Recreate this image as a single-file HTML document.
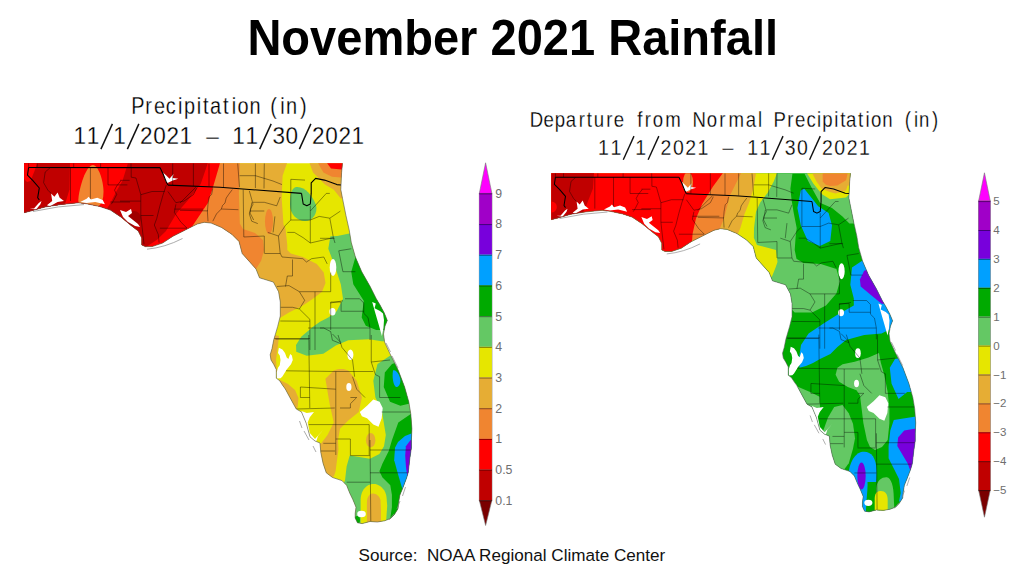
<!DOCTYPE html>
<html><head><meta charset="utf-8"><style>
html,body{margin:0;padding:0;background:#fff;}
body{width:1024px;height:576px;overflow:hidden;}
svg{display:block;}
text{font-family:"Liberation Sans",sans-serif;}
</style></head><body>
<svg width="1024" height="576" viewBox="0 0 1024 576">
<defs>
<clipPath id="cL"><path d="M24.2,163.3 L342.5,163.3 L341.6,172.4 L340.8,189.7 L342.5,198.4 L346,215.8 L349.2,230 L351.25,242.5 L355.4,257 L361.7,271.7 L370,286.25 L376.25,298.75 L380,305 L384.3,313 L387.3,320.4 L385,326 L383.5,334 L384.6,342 L390,353.75 L398.3,370.4 L404.6,387 L408.75,401.7 L410.8,414 L411.9,428.75 L411.4,440 L411.4,447.8 L409.8,458.75 L408.3,472.2 L406.5,478.2 L402.8,488 L399.8,495.3 L398.6,502.6 L398,508.7 L394.3,514.7 L390.7,518.4 L384.6,520.8 L377.3,522 L370,521.5 L362.2,523.6 L357.5,522.8 L355.2,518 L355.2,513.4 L356,507.2 L352.8,499.4 L349.7,493 L346.6,485.3 L341.9,480.6 L332.5,477.5 L326.25,472.8 L323.1,463.4 L320.8,452.5 L320,443 L315,441 L310,436.8 L306.3,423.4 L301.5,412 L296.25,409 L291.25,400 L285.3,389 L282.4,385 L279.75,380.8 L276.3,378.2 L276.3,369.5 L273.7,364.3 L271,360 L270.2,354.75 L272,348.7 L273.7,340 L277.7,326.4 L280.3,316 L280.3,302 L278.6,291.7 L273.4,282.1 L259.5,277.8 L256,269 L242.2,253.5 L239,241.4 L232,234.4 L221.6,227.5 L211.2,223.1 L204.2,222.3 L197.3,224 L190.3,227.5 L183.4,231 L173,236.2 L162.5,243.1 L152.1,246.6 L145.2,246.6 L141.7,244.9 L141.7,237.9 L138.2,231 L131.3,225.7 L120.8,217 L110.4,210.1 L100,206.6 L86.7,203.8 L78.3,202.8 L61.7,204.4 L45,207 L32.5,210.6 L24.2,212.7 Z"/></clipPath>
<clipPath id="cR"><path d="M24.2,163.3 L342.5,163.3 L341.6,172.4 L340.8,189.7 L342.5,198.4 L346,215.8 L349.2,230 L351.25,242.5 L355.4,257 L361.7,271.7 L370,286.25 L376.25,298.75 L380,305 L384.3,313 L387.3,320.4 L385,326 L383.5,334 L384.6,342 L390,353.75 L398.3,370.4 L404.6,387 L408.75,401.7 L410.8,414 L411.9,428.75 L411.4,440 L411.4,447.8 L409.8,458.75 L408.3,472.2 L406.5,478.2 L402.8,488 L399.8,495.3 L398.6,502.6 L398,508.7 L394.3,514.7 L390.7,518.4 L384.6,520.8 L377.3,522 L370,521.5 L362.2,523.6 L357.5,522.8 L355.2,518 L355.2,513.4 L356,507.2 L352.8,499.4 L349.7,493 L346.6,485.3 L341.9,480.6 L332.5,477.5 L326.25,472.8 L323.1,463.4 L320.8,452.5 L320,443 L315,441 L310,436.8 L306.3,423.4 L301.5,412 L296.25,409 L291.25,400 L285.3,389 L282.4,385 L279.75,380.8 L276.3,378.2 L276.3,369.5 L273.7,364.3 L271,360 L270.2,354.75 L272,348.7 L273.7,340 L277.7,326.4 L280.3,316 L280.3,302 L278.6,291.7 L273.4,282.1 L259.5,277.8 L256,269 L242.2,253.5 L239,241.4 L232,234.4 L221.6,227.5 L211.2,223.1 L204.2,222.3 L197.3,224 L190.3,227.5 L183.4,231 L173,236.2 L162.5,243.1 L152.1,246.6 L145.2,246.6 L141.7,244.9 L141.7,237.9 L138.2,231 L131.3,225.7 L120.8,217 L110.4,210.1 L100,206.6 L86.7,203.8 L78.3,202.8 L61.7,204.4 L45,207 L32.5,210.6 L24.2,212.7 Z" transform="translate(551.3,173.2) scale(0.94) translate(-24.2,-163.3)"/></clipPath>
</defs>
<rect width="1024" height="576" fill="#fff"/>
<text x="247.41" y="55" font-size="50.5" font-weight="bold" fill="#000" textLength="530.62" lengthAdjust="spacingAndGlyphs">November 2021 Rainfall</text>
<text x="160.02 177.24 187.78 202.02 216.94 224.37 239.99 247.69 256.20 272.02 282.67 289.58 304.32 329.48 341.82 348.71 365.90" y="114" font-size="24.3" transform="scale(0.82,1)" fill="#000" stroke="#fff" stroke-width="0.25">Precipitation(in)</text>
<text x="80.03 94.41 123.17 152.26 166.64 181.02 195.07 224.17 252.59 266.97 296.14 310.45 339.21 353.59 367.97 382.02" y="144.5" font-size="24.5" transform="scale(0.92,1)" fill="#000" stroke="#fff" stroke-width="0.25">1112021–11302021</text><line x1="100.91" y1="149.1" x2="112.41" y2="123.9" stroke="#111" stroke-width="1.5"/><line x1="127.37" y1="149.1" x2="138.87" y2="123.9" stroke="#111" stroke-width="1.5"/><line x1="259.67" y1="149.1" x2="271.17" y2="123.9" stroke="#111" stroke-width="1.5"/><line x1="299.36" y1="149.1" x2="310.86" y2="123.9" stroke="#111" stroke-width="1.5"/>
<text x="645.93 662.73 676.48 690.03 705.90 715.54 723.95 739.31 748.47 777.16 786.26 796.00 811.27 844.60 861.86 877.00 888.47 909.43 924.55 943.32 960.05 969.56 983.41 996.26 1002.70 1017.48 1024.68 1031.62 1046.27 1055.53 1062.22 1075.99 1103.39 1114.56 1120.74 1136.49" y="126.7" font-size="22.7" transform="scale(0.82,1)" fill="#000" stroke="#fff" stroke-width="0.25">DeparturefromNormalPrecipitation(in)</text>
<text x="650.12 663.62 690.62 717.91 731.41 744.91 758.12 785.41 812.12 825.62 852.97 866.41 893.41 906.91 920.41 933.62" y="155.3" font-size="21.2" transform="scale(0.92,1)" fill="#000" stroke="#fff" stroke-width="0.25">1112021–11302021</text><line x1="623.29" y1="159.8" x2="633.99" y2="136.10000000000002" stroke="#111" stroke-width="1.4"/><line x1="648.13" y1="159.8" x2="658.83" y2="136.10000000000002" stroke="#111" stroke-width="1.4"/><line x1="772.33" y1="159.8" x2="783.03" y2="136.10000000000002" stroke="#111" stroke-width="1.4"/><line x1="809.59" y1="159.8" x2="820.29" y2="136.10000000000002" stroke="#111" stroke-width="1.4"/>
<g clip-path="url(#cL)">
<rect x="0" y="150" width="460" height="400" fill="#e6e600"/>
<polygon fill="#e6ad34" points="0,150 287,150 287,163.3 282.6,175.8 281.7,198.4 283.5,224.4 285.5,228.8 287.3,245 287.3,250 290.8,253.5 302.9,257 316.8,263.9 323.75,272.6 325.5,283 322,291.7 313.3,298.6 302.9,305.6 289,312.5 280.3,317.7 270,320 0,320"/>
<polygon fill="#e6ad34" points="309.5,163 313,172.4 325,184.5 333.8,189.7 340.8,198.4 350,198.4 350,163"/>
<polygon fill="#f08530" points="0,150 239.8,150 239.8,163.4 238.9,194 239.8,223.4 243,229 255,233 263,240 264,250 261.25,260.4 256,269 250,280 0,280"/>
<polygon fill="#f08530" points="318,163 323.4,172.4 332,176.7 340.8,177.6 350,177.6 350,163"/>
<ellipse cx="269" cy="221.5" rx="4" ry="12.5" fill="#f08530"/>
<polygon fill="#ff0000" points="327,163 331,168.5 341.6,169.5 350,169 350,163"/>
<polygon fill="#ff0000" points="0,150 219.9,150 219.9,163.6 212.9,187.5 207.7,203.2 197.3,218.8 190.3,229.2 185,260 0,260"/>
<polygon fill="#c00000" points="0,150 207.7,150 207.7,163.6 200.7,184 186.9,201.4 176.4,213.6 166,231 157.3,239.6 146.9,246.6 140,250 0,250"/>
<ellipse cx="134" cy="218.5" rx="7" ry="7.5" fill="#a00000"/>
<polygon fill="#ff0000" points="0,150 127.8,150 127.8,163.6 122.6,180.6 115.6,192.7 110.4,203.2 107,208.4 100,215 0,215"/>
<path fill="#f08530" d="M93,165 C98,165 103.5,180 103.5,192 C103.5,205 98,208 91,208 C84,208 78,206 78.3,200 C79,188 86,165 93,165 Z"/>
<polygon fill="#c00000" points="0,150 70,150 70,163.3 69.5,189.25 65.8,201.75 64,206 60,215 0,215"/>
<polygon fill="#ff0000" points="24,163.3 37.2,163.3 34.3,171.5 30.5,181 27,182 24,179"/>
<path fill="#64c864" d="M296,187 C305,186 312,195 316,205 C318,213 313,221 305,221 C297,221 290,214 290,205 C290,196 291,188 296,187 Z"/>
<polygon fill="#64c864" points="360,228 349.4,233.5 337.3,236 330.4,236.25 328.3,248.75 334.6,265.4 340.8,284.2 343,298.75 336.7,311.25 328.3,317.5 320,321.7 313.3,326.4 301.2,336.8 296,345 296.25,351.7 306.7,355.8 323.3,353.75 335.8,345.4 348.3,340.2 369.2,339.2 381.7,341.25 400,342 400,228"/>
<polygon fill="#00aa00" points="356,255 351.25,271.7 353.3,284.2 363.75,300.8 361.7,317.5 365.8,325.8 376.25,330 400,330 400,250"/>
<path fill="#e6ad34" d="M333.75,370.4 C340,368 345,369 348.3,370.4 L356.7,380.8 L361.9,397.5 L358.75,412 L348.3,420.4 L340,428.75 L338,440 L338.5,449.4 L337,460.3 L335.6,471.25 L334,476 L330,480 L310,470 L315,445 L321.25,443.3 L327.5,435 L333.75,422.5 L329.6,403.75 L325.4,378.75 Z"/>
<polygon fill="#e6ad34" points="280,380 288,384 295,390 298.5,398 297.5,408 292,410 285,395 277,380"/>
<polygon fill="#e6ad34" points="270,334 279,336 278,345 276,360 277,372 272,372 268,350"/>
<ellipse cx="370.7" cy="440.2" rx="4.7" ry="7.3" fill="#e6ad34"/>
<polygon fill="#64c864" points="390,355.8 377.5,364 373.3,380.8 375.4,397.5 381.7,410 383.75,422.5 385.8,435 384,446.25 379.4,454 370,458.75 360.6,457.2 349.7,455.6 346.6,466.6 345,480.6 340,490 340,540 430,540 430,352"/>
<polygon fill="#00aa00" points="392,364 384.8,372.5 383.75,387 390,401.7 400.4,405.8 408.75,403.75 420,403 420,355"/>
<path fill="#00a0ff" d="M393,370.4 C396,369 400,375 400.4,380 C400.5,385 398,387.5 396,387 C393,385 392,376 393,370.4 Z"/>
<polygon fill="#00aa00" points="420,410 410.8,414 398.3,422.5 392,440 388.75,451 382.5,463.4 379.4,471.25 382.5,477.5 390.3,485.3 391.9,494.7 391.9,507.2 390.3,518 390,530 420,530"/>
<polygon fill="#00a0ff" points="420,430 405,436 398,442 395,447.8 394.2,460.3 398.1,474.4 401.25,485.3 402.8,490 420,490"/>
<polygon fill="#7800dc" points="420,438 410.6,440 405.9,446.25 405.2,455.6 405.9,466.6 407.5,477.5 420,477.5"/>
<path fill="#e6e600" d="M360.6,530 L360.6,499.4 C361,492 364,488.4 367,486 C370,484 374,483.5 377,484.5 C381,486 385.6,490 386.5,497 L387.2,505.6 L385.6,530 Z"/>
<path fill="#e6ad34" d="M366.9,530 L366.9,502.5 C367,498 368.5,494.7 372,493.5 C376,493 379.5,496 380.5,500 L381,510.3 L381,530 Z"/>
<ellipse cx="357" cy="520" rx="3" ry="4" fill="#00aa00"/>
<path d="M372.2,302 L375.8,303.4 L374.6,308.2 L380,311 L383,313.5 L384,320 L383.5,328 L381.9,336 L378.5,324 L375,312 Z" fill="#fff"/>
<path d="M29.7,208.5 L34,208.5 L38.8,203.1 L41.5,201 L40.4,204.2 L36.1,209.6 Z" fill="#fff"/>
<path d="M46.9,205.3 L52.2,201 L51.1,193.4 L54.4,196.7 L57.6,192.4 L59.7,197.7 L64,201 L57.6,202 L50,206.3 Z" fill="#fff"/>
<path d="M80.2,202 L86.6,198.8 L88.7,196.7 L90.9,199.4 L97.3,197.7 L102.7,199.9 L104.9,204.2 L95.2,202 L86.6,203.1 Z" fill="#fff"/>
<path d="M120,210 L126,212 L131,209 L132,213 L128,216 L133,220 L138,224 L140,227 L135,226 L128,222 L123,217 Z" fill="#fff"/>
<path d="M163,172.4 L165.5,181 L167.5,183 L172.7,180.4 L178.3,178.8 L172.7,178 L173.5,174 L169.5,178.8 L166.3,175.6 Z" fill="#fff"/>
<path d="M278.9,347.8 L282.4,349.5 L285,353 L286.7,357.4 L288.4,359.1 L290.2,353.9 L291.9,355.6 L292.8,360 L291,364.3 L286.7,369.5 L284.1,373.8 L282.4,376.4 L280.6,378.2 L277,378.5 L276.8,372 L278,367.8 L279.75,365.2 L280.5,360 L279.75,355.6 L278,353 Z" fill="#fff"/>
<path d="M301.5,411 L306.7,413 L314,412 L309.8,417.3 L307.7,422.5 L309.8,433 L315,439 L323.3,429.8 L318,436 L316,442 L310,440 L305,432 L303,420 Z" fill="#fff"/>
<path d="M359.8,412 L367,405.8 L373.3,399.6 L379.6,401.7 L382.7,408 L381.7,418.3 L378.5,426.7 L373.3,424.6 L367,418.3 L361.9,416.25 Z" fill="#fff"/>
<ellipse cx="348.9" cy="387.1" rx="2.6" ry="4" fill="#fff"/>
<ellipse cx="350.4" cy="354.8" rx="3" ry="5.2" fill="#fff"/>
<ellipse cx="333" cy="267.5" rx="3.3" ry="8.5" fill="#fff"/>
<ellipse cx="332.5" cy="311.7" rx="3.1" ry="3.7" fill="#fff"/>
<ellipse cx="361.5" cy="514" rx="4.3" ry="3.3" fill="#fff"/>
<g fill="none" stroke="#000" stroke-opacity="0.45" stroke-width="0.9" stroke-linejoin="round">
<path d="M28.6,163.3 L28.6,167.5"/>
<path d="M212.8,188.4 L211.6,194.5 L209.2,196.9 L208,204.2 L207.4,211.5 L208,221.2"/>
<path d="M232.3,189.6 L228.6,194.5 L226.2,198.1 L225,203 L222.6,205.4 L221.3,209 L216.5,213.9 L212.8,221.2"/>
<path d="M221.3,209 L238.4,209.7"/>
<path d="M243.2,189.6 L243.8,237 L264.3,236"/>
<path d="M249.3,190.8 L251.7,199.3 L253,204.2 L250.5,209 L249.3,214 L251.7,221.2 L257.8,223.6"/>
<path d="M253,202.3 L264.3,202.3 L276.7,205.8 L280.2,197"/>
<path d="M180,203 L195.8,187.2"/>
<path d="M180,210.3 L208,210.9"/>
<path d="M37.2,163.3 L37.2,167.5"/>
<path d="M73.7,163.3 L73.7,167.5"/>
<path d="M100.6,163.3 L100.6,167.5"/>
<path d="M131,163.3 L131,167.5"/>
<path d="M172.7,163.3 L172.7,185"/>
<path d="M193.4,163.3 L193.4,186"/>
<path d="M209,163.3 L209,186.5"/>
<path d="M223.5,163.3 L223.5,187.2"/>
<path d="M237.7,163.3 L239.5,187.2"/>
<path d="M255.4,163.3 L255.4,188"/>
<path d="M264.3,163.3 L264,188.5"/>
<path d="M239.5,175.7 L255.4,175.7 L273,181 L282,184.6"/>
<path d="M290.8,179.3 L305,180.1"/>
<path d="M50,167.9 L45.2,172 L43.6,182.7 L47.9,190.2 L51.1,193.4"/>
<path d="M70.5,167.5 L70.5,201"/>
<path d="M90.4,167.5 L90.4,198.8"/>
<path d="M108,167.5 L108,184.9 L127.4,184.9"/>
<path d="M121,180.6 L116.7,186 L114.5,190.2 L116.7,194.5 L113.4,201 L111.3,204.2"/>
<path d="M110.2,202 L130,202"/>
<path d="M131.2,167.6 L131.2,177.2 L136,178 L140.8,194.7 L152,191.5 L164.7,191.5"/>
<path d="M166.3,185.1 L163.1,194.7 L159.9,205.9 L156.7,218.7 L154.3,225 L158.3,234.6 L159.1,242.6"/>
<path d="M120,180.3 L129.6,180.3"/>
<path d="M120,201.1 L140.8,201.1"/>
<path d="M140.8,194.7 L140.8,215.5 L144,244.2"/>
<path d="M140.8,215.5 L153.5,215.5"/>
<path d="M167.9,191.5 L175.9,202.7 L183.9,201.1 L193.4,194.7 L196.6,188.3"/>
<path d="M175.9,204.3 L174.3,212.3 L180.7,221.9 L187,228.2"/>
<path d="M174.3,209.1 L203,209.1"/>
<path d="M159.9,228.2 L187,228.2"/>
<path d="M250,211 L264.3,211"/>
<path d="M251.9,202.3 L250,213 L253.7,220"/>
<path d="M267.8,232.4 L278.4,236 L285.5,225.3"/>
<path d="M274.9,216.4 L273.1,232.4"/>
<path d="M285.5,225.3 L290.8,220 L310.3,220 L319.2,216.4 L329.8,218.2 L340.4,211.1"/>
<path d="M290.8,179.3 L290.8,220"/>
<path d="M310.3,205.8 L310.3,243"/>
<path d="M310.3,211 L326.3,193.4 L329.8,193.4"/>
<path d="M287.3,232.4 L294.4,232.4 L303.2,237.7 L310.3,243 L333.4,237.7"/>
<path d="M329.8,218.2 L333.4,237.7 L335,243"/>
<path d="M264.3,236 L264.3,253.5"/>
<path d="M278.4,236 L280.2,253.5"/>
<path d="M264.7,253.5 L280.3,253.5 L282,257 L302.9,258.7 L306.4,262 L311.6,258.7 L323.75,257 L327.2,263.9"/>
<path d="M292.5,259.5 L292.5,276 L287.3,276 L285.5,286.5"/>
<path d="M276.9,286.5 L289,285.6 L299.4,291.7 L304.7,300.3 L299.4,309 L292.5,307.3 L280.3,307.3"/>
<path d="M299.4,291.7 L330.7,291.7"/>
<path d="M315,291.7 L315,350"/>
<path d="M330.7,272.6 L330.7,291.7"/>
<path d="M299.4,309 L309.9,319.4 L309.9,350"/>
<path d="M280.3,321 L309.9,321.2"/>
<path d="M273.4,338.5 L309.9,338.5"/>
<path d="M308.1,328 L323.75,328 L330.7,331.6 L332.4,340.3 L341.1,343.75"/>
<path d="M330.7,302 L341.1,302 L341.1,310.8"/>
<path d="M330.7,302 L330.7,330"/>
<path d="M338.75,250.8 L351.25,248.75"/>
<path d="M338.75,250.8 L342.9,271.7 L355.4,271.7"/>
<path d="M320,238.3 L334.6,238.3"/>
<path d="M345,298.75 L359.6,298.75 L363.75,303 L363.75,313.3 L368,317.5 L370,328 L370,340"/>
<path d="M330.4,303 L343,300.8"/>
<path d="M320,328 L370,328"/>
<path d="M332.5,334 L340.8,342.5"/>
<path d="M340.8,311.25 L363.75,311.25"/>
<path d="M308.75,335 L309.8,408"/>
<path d="M275.4,339.2 L308.75,339.2"/>
<path d="M286,370.8 L335.8,371.5 L373.3,371.5"/>
<path d="M335.8,371.5 L335.8,455"/>
<path d="M300.4,387 L335.8,389.2"/>
<path d="M300.4,387 L300.4,397.5 L309.8,397.5"/>
<path d="M296.25,409 L334.8,408"/>
<path d="M308.75,424.6 L369.2,424.6"/>
<path d="M350.4,397.5 L356.7,397.5 L350.4,403.75 L350.4,408 L340,408"/>
<path d="M352.5,376.7 L356.7,389.2 L365,397.5"/>
<path d="M338,335 L342,347.5 L352.5,360 L354.6,376.7"/>
<path d="M371.25,335 L371.25,362 L390,360"/>
<path d="M371.25,362 L375.4,374.6 L379.6,376.7 L379.6,397.5 L400.4,397.5"/>
<path d="M381.7,412 L410.8,412"/>
<path d="M369.2,424.6 L369.2,455"/>
<path d="M335.8,439 L350.4,439 L350.4,455"/>
<path d="M323.3,443.3 L335.8,443.3"/>
<path d="M320,451 L335,451"/>
<path d="M350,455.6 L370,455.6"/>
<path d="M370,450 L411,450"/>
<path d="M370,440 L370.8,521.25"/>
<path d="M346.6,482.2 L370,482.2"/>
<path d="M370,472.8 L407.5,472.8"/>
</g>
<g fill="none" stroke="#000" stroke-width="1.1" stroke-linejoin="round">
<path d="M28.6,167.5 L27.5,175.2 L32.9,180.6 L39.3,188 L37.7,197.7 L39.3,199.9"/>
<path d="M28.6,167.5 L160,167.6"/>
<path d="M160,167.6 L163.1,174 L166.3,182 L167.9,185.1"/>
<path d="M167.9,185.1 L220,187.2 L301.5,193.4"/>
<path d="M301.5,193.4 L303.2,204 L306.8,205.8 L310.3,204 L311.2,193.4 L311.2,182.8 L315.6,178.4 L324.5,180.1 L336.9,184.6 L341,185"/>
</g>
</g>
<path d="M342.5,163.3 L341.6,172.4 L340.8,189.7 L342.5,198.4 L346,215.8 L349.2,230 L351.25,242.5 L355.4,257 L361.7,271.7 L370,286.25 L376.25,298.75 L380,305 L384.3,313 L387.3,320.4 L385,326 L383.5,334 L384.6,342 L390,353.75 L398.3,370.4 L404.6,387 L408.75,401.7 L410.8,414 L411.9,428.75 L411.4,440 L411.4,447.8 L409.8,458.75 L408.3,472.2 L406.5,478.2 L402.8,488 L399.8,495.3 L398.6,502.6 L398,508.7 L394.3,514.7 L390.7,518.4 L384.6,520.8 L377.3,522 L370,521.5 L362.2,523.6 L357.5,522.8 L355.2,518 L355.2,513.4 L356,507.2 L352.8,499.4 L349.7,493 L346.6,485.3 L341.9,480.6 L332.5,477.5 L326.25,472.8 L323.1,463.4 L320.8,452.5 L320,443 L315,441 L310,436.8 L306.3,423.4 L301.5,412 L296.25,409 L291.25,400 L285.3,389 L282.4,385 L279.75,380.8 L276.3,378.2 L276.3,369.5 L273.7,364.3 L271,360 L270.2,354.75 L272,348.7 L273.7,340 L277.7,326.4 L280.3,316 L280.3,302 L278.6,291.7 L273.4,282.1 L259.5,277.8 L256,269 L242.2,253.5 L239,241.4 L232,234.4 L221.6,227.5 L211.2,223.1 L204.2,222.3 L197.3,224 L190.3,227.5 L183.4,231 L173,236.2 L162.5,243.1 L152.1,246.6 L145.2,246.6 L141.7,244.9 L141.7,237.9 L138.2,231 L131.3,225.7 L120.8,217 L110.4,210.1 L100,206.6 L86.7,203.8 L78.3,202.8 L61.7,204.4 L45,207 L32.5,210.6 L24.2,212.7" fill="none" stroke="#555" stroke-width="0.6"/>
<g fill="none" stroke="#888" stroke-width="0.7"><path d="M33,211.5 Q58,205.8 84,204.6"/><path d="M147,249.2 Q165,247.5 182.5,238.5"/><path d="M299.5,421 L302,428 M304,431 L309,440"/><path d="M313,446 L316,452"/><path d="M405.5,487 L402.5,496 M400,501 L397,509"/><path d="M394,514 L389,520"/><path d="M386,343 L390.5,352 M392,356 L398,368"/></g>
<g clip-path="url(#cR)">
<rect x="500" y="150" width="460" height="400" fill="#00aa00"/>
<polygon fill="#64c864" points="740,173.2 792.5,173.2 790.4,188.8 791.5,199.25 793.5,211.75 796.7,228 795.6,237.4 794.7,250 796.5,258.7 803.4,263 820.8,263.9 836.4,269.1 840,281.3 836.4,293.4 826,305.6 812.1,312.5 794.7,312.5 789.5,307.3 780,300 740,290"/>
<polygon fill="#64c864" points="804.3,173.2 811.25,187.1 820,202.7 832,208 842.5,216.6 849.4,223.6 860,223.6 860,173.2"/>
<polygon fill="#e6e600" points="807,173.2 813.3,183.6 821.7,194 830,199.25 846,197.5 849.4,194 860,190 860,173.2"/>
<polygon fill="#e6ad34" points="812.3,173.2 816.5,181.5 821.7,188.8 830,192 835.6,193.5 846,190.6 847.7,185.4 860,185 860,173.2"/>
<polygon fill="#f08530" points="822.7,173.2 822.7,181.5 825.8,184.7 830,186 837.3,185.4 846,180.2 847.7,173.2"/>
<polygon fill="#00a0ff" points="804.3,188.8 800.8,190.6 797.4,208 800.8,225.3 807.8,240.9 820,246.1 830.3,240.9 832,225.3 828.6,213.1 818.2,206.2 811.25,197.5"/>
<polygon fill="#00a0ff" points="870,255 862.5,260.4 852,267.4 850.3,284.7 853.8,298.6 853.8,305.6 838.2,314.3 824.3,323 808.6,333.4 801,345 799.5,355 799.5,367.8 806,366 813,363 820,359 830.4,353.9 837.4,347 846,340 864.2,335.1 881.6,333.4 888.5,330 900,330 900,255"/>
<polygon fill="#7800dc" points="864.2,270.8 859.9,279.5 860.7,286.5 871.2,295.2 881.6,303.8 890,303.8 880,265"/>
<polygon fill="#64c864" points="879,353 868.6,357.4 854.7,361.7 842.6,364.3 837.4,367.8 835.6,374.7 839.1,381.7 847.8,386.9 856.5,390.3 860,395.6 861.7,409.4 863.4,423.3 866.9,440 870,447 875,450 882,447 887.7,440 889.4,423.3 889.4,409.4 887.7,392 884.2,374.7 880.8,362.6"/>
<polygon fill="#64c864" points="780,383 796.7,386.25 811.25,392.5 819.6,396.7 820,407 816,415 812,425 800,425 780,410"/>
<polygon fill="#64c864" points="822,434 828,417.5 834.2,407 842.5,405 848.75,413.3 853,423.75 855,438.3 853,448.75 848.75,463.3 842.5,471.7 830,475 820,450"/>
<polygon fill="#00a0ff" points="895,359 889.8,367.8 891.5,383.4 898.5,399 907.2,392 920,392 920,355"/>
<polygon fill="#00a0ff" points="893.8,420 890.3,430.4 888.6,446 888.6,458.2 893.8,468.6 899,479 900.7,493 899,501.6 920,501.6 920,416"/>
<polygon fill="#7800dc" points="904.2,430.4 898.1,437.4 897.3,446 902.5,454.7 907.7,463.4 910.3,470.4 920,470.4 920,428"/>
<path fill="#00a0ff" d="M848,480 C848,468 852,455 861,452 C870,450 876,456 876.5,470 C877,485 874,500 870,512 L858,512 Z"/>
<ellipse cx="861.5" cy="476" rx="4.2" ry="13.5" fill="#7800dc"/>
<path fill="#00aa00" d="M866,512 C866,500 868,490 867.5,482 L880,482 L880,512 Z"/>
<path fill="#64c864" d="M876.4,515 L876.4,488 C877,480 882,477 886.8,477.3 C891,478 893.8,486 893.8,498 L894.6,515 Z"/>
<path fill="#e6e600" d="M874.7,515 L874.7,498 C875,492 878,491 881,491 C885,491 887.7,494 887.7,500 L887.7,515 Z"/>
<polygon fill="#e6e600" points="500,150 776.9,150 776.9,173.2 773.75,181.5 767.5,193 760.2,202.4 756,211.75 754,228 753.9,238 757,245 776,250 777.5,262 775.6,267.4 772.2,276 760,290 500,290"/>
<polygon fill="#e6ad34" points="500,150 756,150 756,173.2 753,190 749,203 744.5,214 740.4,228 737,236 734.5,240 730,245 500,245"/>
<polygon fill="#f08530" points="500,150 741,150 741,173.2 730.2,195 723.8,218.7 719.5,229.5 715,240 500,240"/>
<polygon fill="#ff0000" points="500,150 722.7,150 722.7,173.2 713,186.5 702.3,203.7 695.9,218.7 692.6,233.75 691.6,246.6 690,260 500,260"/>
<ellipse cx="688" cy="182" rx="5" ry="10" fill="#f08530"/>
<polygon fill="#c00000" points="500,150 594,150 594,173.2 592.9,188.8 588.75,199.25 584.6,209.7 578,220 500,220"/>
<circle cx="551.3" cy="207" r="5.5" fill="#ff0000"/>
<g transform="translate(551.3,173.2) scale(0.94) translate(-24.2,-163.3)">
<path d="M372.2,302 L375.8,303.4 L374.6,308.2 L380,311 L383,313.5 L384,320 L383.5,328 L381.9,336 L378.5,324 L375,312 Z" fill="#fff"/>
<path d="M29.7,208.5 L34,208.5 L38.8,203.1 L41.5,201 L40.4,204.2 L36.1,209.6 Z" fill="#fff"/>
<path d="M46.9,205.3 L52.2,201 L51.1,193.4 L54.4,196.7 L57.6,192.4 L59.7,197.7 L64,201 L57.6,202 L50,206.3 Z" fill="#fff"/>
<path d="M80.2,202 L86.6,198.8 L88.7,196.7 L90.9,199.4 L97.3,197.7 L102.7,199.9 L104.9,204.2 L95.2,202 L86.6,203.1 Z" fill="#fff"/>
<path d="M120,210 L126,212 L131,209 L132,213 L128,216 L133,220 L138,224 L140,227 L135,226 L128,222 L123,217 Z" fill="#fff"/>
<path d="M163,172.4 L165.5,181 L167.5,183 L172.7,180.4 L178.3,178.8 L172.7,178 L173.5,174 L169.5,178.8 L166.3,175.6 Z" fill="#fff"/>
<path d="M278.9,347.8 L282.4,349.5 L285,353 L286.7,357.4 L288.4,359.1 L290.2,353.9 L291.9,355.6 L292.8,360 L291,364.3 L286.7,369.5 L284.1,373.8 L282.4,376.4 L280.6,378.2 L277,378.5 L276.8,372 L278,367.8 L279.75,365.2 L280.5,360 L279.75,355.6 L278,353 Z" fill="#fff"/>
<path d="M301.5,411 L306.7,413 L314,412 L309.8,417.3 L307.7,422.5 L309.8,433 L315,439 L323.3,429.8 L318,436 L316,442 L310,440 L305,432 L303,420 Z" fill="#fff"/>
<path d="M359.8,412 L367,405.8 L373.3,399.6 L379.6,401.7 L382.7,408 L381.7,418.3 L378.5,426.7 L373.3,424.6 L367,418.3 L361.9,416.25 Z" fill="#fff"/>
<ellipse cx="348.9" cy="387.1" rx="2.6" ry="4" fill="#fff"/>
<ellipse cx="350.4" cy="354.8" rx="3" ry="5.2" fill="#fff"/>
<ellipse cx="333" cy="267.5" rx="3.3" ry="8.5" fill="#fff"/>
<ellipse cx="332.5" cy="311.7" rx="3.1" ry="3.7" fill="#fff"/>
<ellipse cx="361.5" cy="514" rx="4.3" ry="3.3" fill="#fff"/>
<g fill="none" stroke="#000" stroke-opacity="0.45" stroke-width="0.9" stroke-linejoin="round">
<path d="M28.6,163.3 L28.6,167.5"/>
<path d="M212.8,188.4 L211.6,194.5 L209.2,196.9 L208,204.2 L207.4,211.5 L208,221.2"/>
<path d="M232.3,189.6 L228.6,194.5 L226.2,198.1 L225,203 L222.6,205.4 L221.3,209 L216.5,213.9 L212.8,221.2"/>
<path d="M221.3,209 L238.4,209.7"/>
<path d="M243.2,189.6 L243.8,237 L264.3,236"/>
<path d="M249.3,190.8 L251.7,199.3 L253,204.2 L250.5,209 L249.3,214 L251.7,221.2 L257.8,223.6"/>
<path d="M253,202.3 L264.3,202.3 L276.7,205.8 L280.2,197"/>
<path d="M180,203 L195.8,187.2"/>
<path d="M180,210.3 L208,210.9"/>
<path d="M37.2,163.3 L37.2,167.5"/>
<path d="M73.7,163.3 L73.7,167.5"/>
<path d="M100.6,163.3 L100.6,167.5"/>
<path d="M131,163.3 L131,167.5"/>
<path d="M172.7,163.3 L172.7,185"/>
<path d="M193.4,163.3 L193.4,186"/>
<path d="M209,163.3 L209,186.5"/>
<path d="M223.5,163.3 L223.5,187.2"/>
<path d="M237.7,163.3 L239.5,187.2"/>
<path d="M255.4,163.3 L255.4,188"/>
<path d="M264.3,163.3 L264,188.5"/>
<path d="M239.5,175.7 L255.4,175.7 L273,181 L282,184.6"/>
<path d="M290.8,179.3 L305,180.1"/>
<path d="M50,167.9 L45.2,172 L43.6,182.7 L47.9,190.2 L51.1,193.4"/>
<path d="M70.5,167.5 L70.5,201"/>
<path d="M90.4,167.5 L90.4,198.8"/>
<path d="M108,167.5 L108,184.9 L127.4,184.9"/>
<path d="M121,180.6 L116.7,186 L114.5,190.2 L116.7,194.5 L113.4,201 L111.3,204.2"/>
<path d="M110.2,202 L130,202"/>
<path d="M131.2,167.6 L131.2,177.2 L136,178 L140.8,194.7 L152,191.5 L164.7,191.5"/>
<path d="M166.3,185.1 L163.1,194.7 L159.9,205.9 L156.7,218.7 L154.3,225 L158.3,234.6 L159.1,242.6"/>
<path d="M120,180.3 L129.6,180.3"/>
<path d="M120,201.1 L140.8,201.1"/>
<path d="M140.8,194.7 L140.8,215.5 L144,244.2"/>
<path d="M140.8,215.5 L153.5,215.5"/>
<path d="M167.9,191.5 L175.9,202.7 L183.9,201.1 L193.4,194.7 L196.6,188.3"/>
<path d="M175.9,204.3 L174.3,212.3 L180.7,221.9 L187,228.2"/>
<path d="M174.3,209.1 L203,209.1"/>
<path d="M159.9,228.2 L187,228.2"/>
<path d="M250,211 L264.3,211"/>
<path d="M251.9,202.3 L250,213 L253.7,220"/>
<path d="M267.8,232.4 L278.4,236 L285.5,225.3"/>
<path d="M274.9,216.4 L273.1,232.4"/>
<path d="M285.5,225.3 L290.8,220 L310.3,220 L319.2,216.4 L329.8,218.2 L340.4,211.1"/>
<path d="M290.8,179.3 L290.8,220"/>
<path d="M310.3,205.8 L310.3,243"/>
<path d="M310.3,211 L326.3,193.4 L329.8,193.4"/>
<path d="M287.3,232.4 L294.4,232.4 L303.2,237.7 L310.3,243 L333.4,237.7"/>
<path d="M329.8,218.2 L333.4,237.7 L335,243"/>
<path d="M264.3,236 L264.3,253.5"/>
<path d="M278.4,236 L280.2,253.5"/>
<path d="M264.7,253.5 L280.3,253.5 L282,257 L302.9,258.7 L306.4,262 L311.6,258.7 L323.75,257 L327.2,263.9"/>
<path d="M292.5,259.5 L292.5,276 L287.3,276 L285.5,286.5"/>
<path d="M276.9,286.5 L289,285.6 L299.4,291.7 L304.7,300.3 L299.4,309 L292.5,307.3 L280.3,307.3"/>
<path d="M299.4,291.7 L330.7,291.7"/>
<path d="M315,291.7 L315,350"/>
<path d="M330.7,272.6 L330.7,291.7"/>
<path d="M299.4,309 L309.9,319.4 L309.9,350"/>
<path d="M280.3,321 L309.9,321.2"/>
<path d="M273.4,338.5 L309.9,338.5"/>
<path d="M308.1,328 L323.75,328 L330.7,331.6 L332.4,340.3 L341.1,343.75"/>
<path d="M330.7,302 L341.1,302 L341.1,310.8"/>
<path d="M330.7,302 L330.7,330"/>
<path d="M338.75,250.8 L351.25,248.75"/>
<path d="M338.75,250.8 L342.9,271.7 L355.4,271.7"/>
<path d="M320,238.3 L334.6,238.3"/>
<path d="M345,298.75 L359.6,298.75 L363.75,303 L363.75,313.3 L368,317.5 L370,328 L370,340"/>
<path d="M330.4,303 L343,300.8"/>
<path d="M320,328 L370,328"/>
<path d="M332.5,334 L340.8,342.5"/>
<path d="M340.8,311.25 L363.75,311.25"/>
<path d="M308.75,335 L309.8,408"/>
<path d="M275.4,339.2 L308.75,339.2"/>
<path d="M286,370.8 L335.8,371.5 L373.3,371.5"/>
<path d="M335.8,371.5 L335.8,455"/>
<path d="M300.4,387 L335.8,389.2"/>
<path d="M300.4,387 L300.4,397.5 L309.8,397.5"/>
<path d="M296.25,409 L334.8,408"/>
<path d="M308.75,424.6 L369.2,424.6"/>
<path d="M350.4,397.5 L356.7,397.5 L350.4,403.75 L350.4,408 L340,408"/>
<path d="M352.5,376.7 L356.7,389.2 L365,397.5"/>
<path d="M338,335 L342,347.5 L352.5,360 L354.6,376.7"/>
<path d="M371.25,335 L371.25,362 L390,360"/>
<path d="M371.25,362 L375.4,374.6 L379.6,376.7 L379.6,397.5 L400.4,397.5"/>
<path d="M381.7,412 L410.8,412"/>
<path d="M369.2,424.6 L369.2,455"/>
<path d="M335.8,439 L350.4,439 L350.4,455"/>
<path d="M323.3,443.3 L335.8,443.3"/>
<path d="M320,451 L335,451"/>
<path d="M350,455.6 L370,455.6"/>
<path d="M370,450 L411,450"/>
<path d="M370,440 L370.8,521.25"/>
<path d="M346.6,482.2 L370,482.2"/>
<path d="M370,472.8 L407.5,472.8"/>
</g>
<g fill="none" stroke="#000" stroke-width="1.1" stroke-linejoin="round">
<path d="M28.6,167.5 L27.5,175.2 L32.9,180.6 L39.3,188 L37.7,197.7 L39.3,199.9"/>
<path d="M28.6,167.5 L160,167.6"/>
<path d="M160,167.6 L163.1,174 L166.3,182 L167.9,185.1"/>
<path d="M167.9,185.1 L220,187.2 L301.5,193.4"/>
<path d="M301.5,193.4 L303.2,204 L306.8,205.8 L310.3,204 L311.2,193.4 L311.2,182.8 L315.6,178.4 L324.5,180.1 L336.9,184.6 L341,185"/>
</g>
</g>
</g>
<path d="M342.5,163.3 L341.6,172.4 L340.8,189.7 L342.5,198.4 L346,215.8 L349.2,230 L351.25,242.5 L355.4,257 L361.7,271.7 L370,286.25 L376.25,298.75 L380,305 L384.3,313 L387.3,320.4 L385,326 L383.5,334 L384.6,342 L390,353.75 L398.3,370.4 L404.6,387 L408.75,401.7 L410.8,414 L411.9,428.75 L411.4,440 L411.4,447.8 L409.8,458.75 L408.3,472.2 L406.5,478.2 L402.8,488 L399.8,495.3 L398.6,502.6 L398,508.7 L394.3,514.7 L390.7,518.4 L384.6,520.8 L377.3,522 L370,521.5 L362.2,523.6 L357.5,522.8 L355.2,518 L355.2,513.4 L356,507.2 L352.8,499.4 L349.7,493 L346.6,485.3 L341.9,480.6 L332.5,477.5 L326.25,472.8 L323.1,463.4 L320.8,452.5 L320,443 L315,441 L310,436.8 L306.3,423.4 L301.5,412 L296.25,409 L291.25,400 L285.3,389 L282.4,385 L279.75,380.8 L276.3,378.2 L276.3,369.5 L273.7,364.3 L271,360 L270.2,354.75 L272,348.7 L273.7,340 L277.7,326.4 L280.3,316 L280.3,302 L278.6,291.7 L273.4,282.1 L259.5,277.8 L256,269 L242.2,253.5 L239,241.4 L232,234.4 L221.6,227.5 L211.2,223.1 L204.2,222.3 L197.3,224 L190.3,227.5 L183.4,231 L173,236.2 L162.5,243.1 L152.1,246.6 L145.2,246.6 L141.7,244.9 L141.7,237.9 L138.2,231 L131.3,225.7 L120.8,217 L110.4,210.1 L100,206.6 L86.7,203.8 L78.3,202.8 L61.7,204.4 L45,207 L32.5,210.6 L24.2,212.7" fill="none" stroke="#555" stroke-width="0.6" transform="translate(551.3,173.2) scale(0.94) translate(-24.2,-163.3)"/>
<g fill="none" stroke="#888" stroke-width="0.7" transform="translate(551.3,173.2) scale(0.94) translate(-24.2,-163.3)"><path d="M33,211.5 Q58,205.8 84,204.6"/><path d="M147,249.2 Q165,247.5 182.5,238.5"/><path d="M299.5,421 L302,428 M304,431 L309,440"/><path d="M313,446 L316,452"/><path d="M405.5,487 L402.5,496 M400,501 L397,509"/><path d="M394,514 L389,520"/><path d="M386,343 L390.5,352 M392,356 L398,368"/></g>
<polygon fill="#ff00ff" stroke="#777" stroke-width="0.6" points="485.6,162.8 491.90000000000003,193.4 479.3,193.4"/>
<polygon fill="#7a0000" stroke="#777" stroke-width="0.6" points="479.3,500.30 491.90000000000003,500.30 485.6,525.5"/>
<rect x="479.3" y="193.4" width="12.6" height="306.90" fill="none" stroke="#777" stroke-width="0.8"/>
<rect x="479.3" y="193.40" width="12.6" height="30.69" fill="#a000c8"/>
<rect x="479.3" y="224.09" width="12.6" height="30.69" fill="#7800dc"/>
<rect x="479.3" y="254.78" width="12.6" height="30.69" fill="#00a0ff"/>
<rect x="479.3" y="285.47" width="12.6" height="30.69" fill="#00aa00"/>
<rect x="479.3" y="316.16" width="12.6" height="30.69" fill="#64c864"/>
<rect x="479.3" y="346.85" width="12.6" height="30.69" fill="#e6e600"/>
<rect x="479.3" y="377.54" width="12.6" height="30.69" fill="#e6ad34"/>
<rect x="479.3" y="408.23" width="12.6" height="30.69" fill="#f08530"/>
<rect x="479.3" y="438.92" width="12.6" height="30.69" fill="#ff0000"/>
<rect x="479.3" y="469.61" width="12.6" height="30.69" fill="#c00000"/>
<line x1="479.3" x2="491.90000000000003" y1="193.90" y2="193.90" stroke="#58006e" stroke-width="1"/>
<line x1="479.3" x2="491.90000000000003" y1="224.59" y2="224.59" stroke="#420079" stroke-width="1"/>
<line x1="479.3" x2="491.90000000000003" y1="255.28" y2="255.28" stroke="#00588c" stroke-width="1"/>
<line x1="479.3" x2="491.90000000000003" y1="285.97" y2="285.97" stroke="#005d00" stroke-width="1"/>
<line x1="479.3" x2="491.90000000000003" y1="316.66" y2="316.66" stroke="#376e37" stroke-width="1"/>
<line x1="479.3" x2="491.90000000000003" y1="347.35" y2="347.35" stroke="#7e7e00" stroke-width="1"/>
<line x1="479.3" x2="491.90000000000003" y1="378.04" y2="378.04" stroke="#7e5f1c" stroke-width="1"/>
<line x1="479.3" x2="491.90000000000003" y1="408.73" y2="408.73" stroke="#84491a" stroke-width="1"/>
<line x1="479.3" x2="491.90000000000003" y1="439.42" y2="439.42" stroke="#8c0000" stroke-width="1"/>
<line x1="479.3" x2="491.90000000000003" y1="470.11" y2="470.11" stroke="#690000" stroke-width="1"/>
<line x1="479.3" x2="491.90000000000003" y1="500.80" y2="500.80" stroke="#430000" stroke-width="1"/>
<text x="495.3" y="197.7" font-size="12.3" fill="#6e6e6e">9</text>
<text x="495.3" y="228.4" font-size="12.3" fill="#6e6e6e">8</text>
<text x="495.3" y="259.1" font-size="12.3" fill="#6e6e6e">7</text>
<text x="495.3" y="289.8" font-size="12.3" fill="#6e6e6e">6</text>
<text x="495.3" y="320.5" font-size="12.3" fill="#6e6e6e">5</text>
<text x="495.3" y="351.2" font-size="12.3" fill="#6e6e6e">4</text>
<text x="495.3" y="381.8" font-size="12.3" fill="#6e6e6e">3</text>
<text x="495.3" y="412.5" font-size="12.3" fill="#6e6e6e">2</text>
<text x="495.3" y="443.2" font-size="12.3" fill="#6e6e6e">1</text>
<text x="495.3" y="473.9" font-size="12.3" fill="#6e6e6e">0.5</text>
<text x="495.3" y="504.6" font-size="12.3" fill="#6e6e6e">0.1</text>
<polygon fill="#ff00ff" stroke="#777" stroke-width="0.6" points="984.45,172.8 990.3000000000001,201.1 978.6,201.1"/>
<polygon fill="#7a0000" stroke="#777" stroke-width="0.6" points="978.6,490.10 990.3000000000001,490.10 984.45,517.2"/>
<rect x="978.6" y="201.1" width="11.7" height="289.00" fill="none" stroke="#777" stroke-width="0.8"/>
<rect x="978.6" y="201.10" width="11.7" height="28.90" fill="#a000c8"/>
<rect x="978.6" y="230.00" width="11.7" height="28.90" fill="#7800dc"/>
<rect x="978.6" y="258.90" width="11.7" height="28.90" fill="#00a0ff"/>
<rect x="978.6" y="287.80" width="11.7" height="28.90" fill="#00aa00"/>
<rect x="978.6" y="316.70" width="11.7" height="28.90" fill="#64c864"/>
<rect x="978.6" y="345.60" width="11.7" height="28.90" fill="#e6e600"/>
<rect x="978.6" y="374.50" width="11.7" height="28.90" fill="#e6ad34"/>
<rect x="978.6" y="403.40" width="11.7" height="28.90" fill="#f08530"/>
<rect x="978.6" y="432.30" width="11.7" height="28.90" fill="#ff0000"/>
<rect x="978.6" y="461.20" width="11.7" height="28.90" fill="#c00000"/>
<line x1="978.6" x2="990.3000000000001" y1="201.60" y2="201.60" stroke="#58006e" stroke-width="1"/>
<line x1="978.6" x2="990.3000000000001" y1="230.50" y2="230.50" stroke="#420079" stroke-width="1"/>
<line x1="978.6" x2="990.3000000000001" y1="259.40" y2="259.40" stroke="#00588c" stroke-width="1"/>
<line x1="978.6" x2="990.3000000000001" y1="288.30" y2="288.30" stroke="#005d00" stroke-width="1"/>
<line x1="978.6" x2="990.3000000000001" y1="317.20" y2="317.20" stroke="#376e37" stroke-width="1"/>
<line x1="978.6" x2="990.3000000000001" y1="346.10" y2="346.10" stroke="#7e7e00" stroke-width="1"/>
<line x1="978.6" x2="990.3000000000001" y1="375.00" y2="375.00" stroke="#7e5f1c" stroke-width="1"/>
<line x1="978.6" x2="990.3000000000001" y1="403.90" y2="403.90" stroke="#84491a" stroke-width="1"/>
<line x1="978.6" x2="990.3000000000001" y1="432.80" y2="432.80" stroke="#8c0000" stroke-width="1"/>
<line x1="978.6" x2="990.3000000000001" y1="461.70" y2="461.70" stroke="#690000" stroke-width="1"/>
<line x1="978.6" x2="990.3000000000001" y1="490.60" y2="490.60" stroke="#430000" stroke-width="1"/>
<text x="993.2" y="205.1" font-size="11.5" fill="#6e6e6e">5</text>
<text x="993.2" y="234.0" font-size="11.5" fill="#6e6e6e">4</text>
<text x="993.2" y="262.9" font-size="11.5" fill="#6e6e6e">3</text>
<text x="993.2" y="291.8" font-size="11.5" fill="#6e6e6e">2</text>
<text x="993.2" y="320.7" font-size="11.5" fill="#6e6e6e">1</text>
<text x="993.2" y="349.6" font-size="11.5" fill="#6e6e6e">0</text>
<text x="993.2" y="378.5" font-size="11.5" fill="#6e6e6e">−1</text>
<text x="993.2" y="407.4" font-size="11.5" fill="#6e6e6e">−2</text>
<text x="993.2" y="436.3" font-size="11.5" fill="#6e6e6e">−3</text>
<text x="993.2" y="465.2" font-size="11.5" fill="#6e6e6e">−4</text>
<text x="993.2" y="494.1" font-size="11.5" fill="#6e6e6e">−5</text>
<text x="358.51" y="561" font-size="17.2" fill="#111" textLength="306.75" lengthAdjust="spacingAndGlyphs" style="white-space:pre">Source:  NOAA Regional Climate Center</text>
</svg>
</body></html>
